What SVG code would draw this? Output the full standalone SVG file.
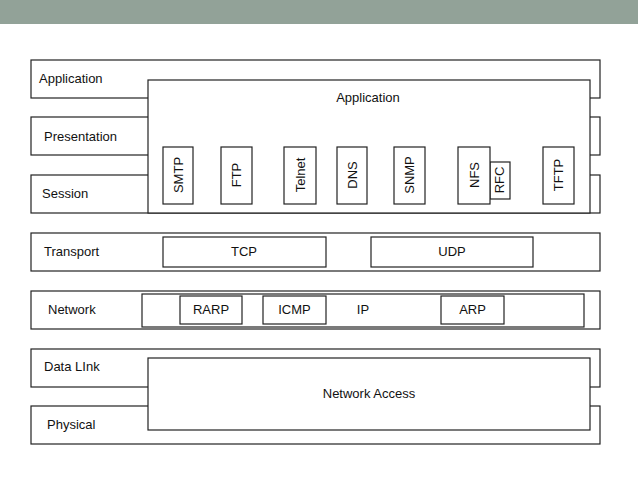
<svg xmlns="http://www.w3.org/2000/svg" width="638" height="478" viewBox="0 0 638 478">
<style>
rect{fill:#fff;stroke:#222;stroke-width:1.2}
text{font-family:"Liberation Sans",Arial,sans-serif;font-size:13px;fill:#111}
.c{text-anchor:middle}
.v{text-anchor:middle;dominant-baseline:central}
</style>
<rect x="0" y="0" width="638" height="24" style="fill:#92a298;stroke:none"/>
<g id="layers">
<g id="l-app"><rect x="31" y="60" width="569" height="38"/><text x="39" y="83">Application</text></g>
<g id="l-pres"><rect x="31" y="117" width="569" height="38"/><text x="44" y="141">Presentation</text></g>
<g id="l-sess"><rect x="31" y="175" width="569" height="38"/><text x="42" y="198">Session</text></g>
<g id="l-trans"><rect x="31" y="233" width="569" height="38"/><text x="44" y="256">Transport</text></g>
<g id="l-net"><rect x="31" y="291" width="569" height="38"/><text x="48" y="314">Network</text></g>
<g id="l-dl"><rect x="31" y="349" width="569" height="38"/><text x="44" y="371">Data LInk</text></g>
<g id="l-phys"><rect x="31" y="406" width="569" height="38"/><text x="47" y="429">Physical</text></g>
</g>
<g id="app"><rect x="148" y="80" width="442" height="133"/><text class="c" x="368" y="102">Application</text></g>
<g id="smtp"><rect x="163" y="147" width="30" height="57"/><text class="v" transform="translate(178,175) rotate(-90)">SMTP</text></g>
<g id="ftp"><rect x="221" y="147" width="31" height="57"/><text class="v" transform="translate(236.5,175) rotate(-90)">FTP</text></g>
<g id="telnet"><rect x="284" y="147" width="32" height="57"/><text class="v" transform="translate(300,175) rotate(-90)">Telnet</text></g>
<g id="dns"><rect x="337" y="147" width="30" height="57"/><text class="v" transform="translate(352,175) rotate(-90)">DNS</text></g>
<g id="snmp"><rect x="394" y="147" width="31" height="57"/><text class="v" transform="translate(409.5,175) rotate(-90)">SNMP</text></g>
<g id="rfc"><rect x="490" y="162" width="20" height="37"/><text class="v" transform="translate(499,180) rotate(-90)">RFC</text></g>
<g id="nfs"><rect x="458" y="147" width="32" height="57"/><text class="v" transform="translate(474,175) rotate(-90)">NFS</text></g>
<g id="tftp"><rect x="543" y="147" width="31" height="57"/><text class="v" transform="translate(558.5,175) rotate(-90)">TFTP</text></g>
<g id="tcp"><rect x="163" y="237" width="163" height="30"/><text class="c" x="244" y="256">TCP</text></g>
<g id="udp"><rect x="371" y="237" width="162" height="30"/><text class="c" x="452" y="256">UDP</text></g>
<g id="ip"><rect x="142" y="294" width="442" height="33"/><text class="c" x="363" y="314">IP</text></g>
<g id="rarp"><rect x="180" y="296" width="62" height="28"/><text class="c" x="211" y="314">RARP</text></g>
<g id="icmp"><rect x="263" y="296" width="63" height="28"/><text class="c" x="294.5" y="314">ICMP</text></g>
<g id="arp"><rect x="441" y="296" width="63" height="28"/><text class="c" x="472.5" y="314">ARP</text></g>
<g id="na"><rect x="148" y="358" width="442" height="72"/><text class="c" x="369" y="398">Network Access</text></g>
<g id="connectors"/>
</svg>
